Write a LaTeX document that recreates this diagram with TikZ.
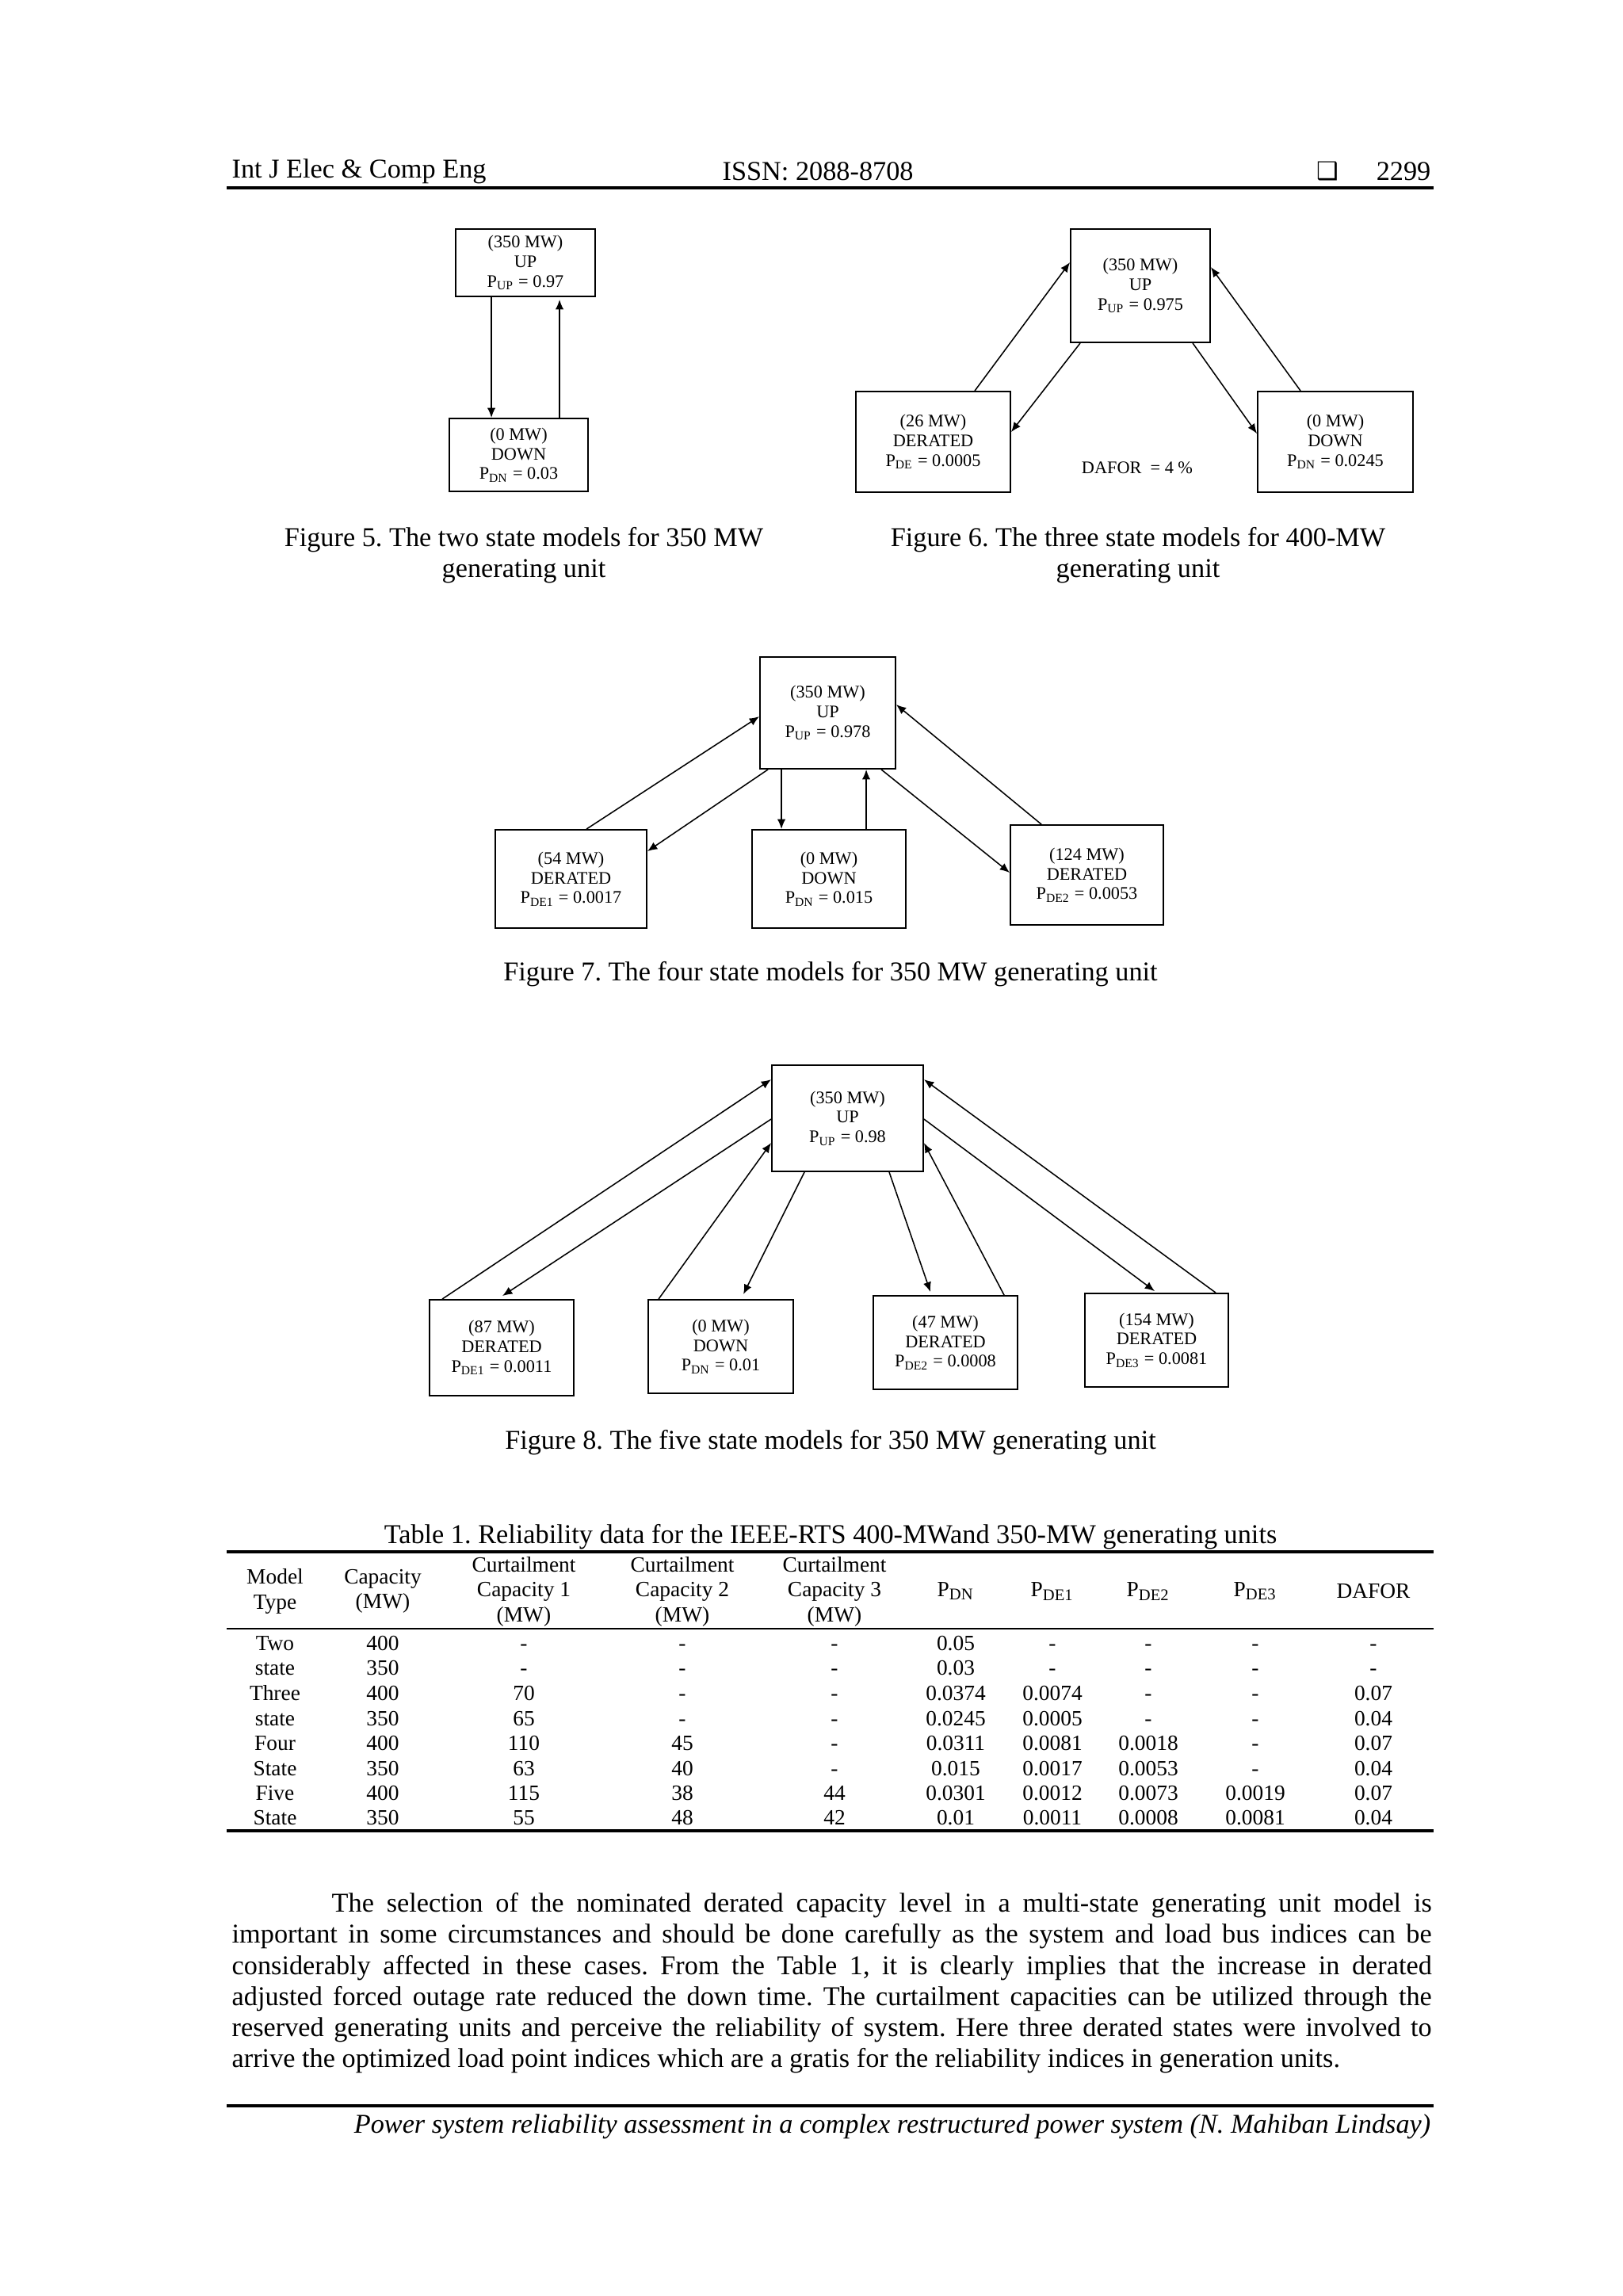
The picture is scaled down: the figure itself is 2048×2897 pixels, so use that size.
\documentclass[tikz,border=0pt]{standalone}
\usepackage{fontspec}
\setmainfont{Liberation Serif}
\newfontfamily\symbolfont{DejaVu Sans}
\usepackage{tikz}
\usetikzlibrary{arrows.meta,calc}
\frenchspacing

\newcommand{\pxu}{0.0102539cm}

\begin{document}
\begin{tikzpicture}[
    x=0.0102539cm,y=-0.0102539cm,
    statebox/.style 2 args={draw,line width=0.55pt,align=center,inner sep=0pt,
        minimum width=#1*\pxu,minimum height=#2*\pxu,
        font=\fontsize{6.5}{7.2}\selectfont},
    trans/.style={line width=0.45pt,-{Latex[length=3.6pt,width=3pt]}},
    rule/.style={line width=0.9pt},
    caption/.style={align=center,inner sep=0pt,font=\fontsize{10}{11.4}\selectfont},
    head/.style={align=center,inner sep=0pt,font=\fontsize{8}{9.2}\selectfont},
    cellval/.style={inner sep=0pt,text height=1.5ex,text depth=0.25ex,
        font=\fontsize{8}{9.2}\selectfont},
    every node/.style={text=black}
]
    \fill[white] (0,0) rectangle (2048,2897);
    \useasboundingbox (0,0) rectangle (2048,2897);

    % running head
    \node[caption,anchor=west] (jname) at (292,216) {Int J Elec \& Comp Eng};
    \node[caption,anchor=west] (issn) at (911,216) {ISSN: 2088-8708};
    \node[inner sep=0pt,font=\symbolfont\fontsize{9}{9}\selectfont] (mark) at (1675,216) {❑};
    \node[caption,anchor=east] (pageno) at (1806,216) {2299};
    \draw[rule] (286,237) -- (1809,237);

    % Figure 5: two states
    \node[statebox={176}{85}] (up5) at (663,331.5) {(350 MW)\\UP\\P\textsubscript{UP} = 0.97};
    \node[statebox={175}{92}] (dn5) at (654.5,574) {(0 MW)\\DOWN\\P\textsubscript{DN} = 0.03};
    \draw[trans] ($(up5.south west)+(46,0)$) -- ($(dn5.north west)+(54,0)$);
    \draw[trans] ($(dn5.north west)+(140,0)$) -- ($(up5.south west)+(132,3)$);
    \node[caption] (cap5) at (661,701) {Figure 5. The two state models for 350 MW\\generating unit};

    % Figure 6: three states
    \node[statebox={176}{143}] (up6) at (1439,360.5) {(350 MW)\\UP\\P\textsubscript{UP} = 0.975};
    \node[statebox={195}{127}] (de6) at (1177.5,557.5) {(26 MW)\\DERATED\\P\textsubscript{DE} = 0.0005};
    \node[statebox={196}{127}] (dn6) at (1685,557.5) {(0 MW)\\DOWN\\P\textsubscript{DN} = 0.0245};
    \draw[trans] ($(de6.north west)+(151,0)$) -- ($(up6.north west)+(0,43)$);
    \draw[trans] ($(up6.south west)+(13,0)$) -- ($(de6.north east)+(0,52)$);
    \draw[trans] ($(up6.south west)+(155,0)$) -- ($(dn6.north west)+(0,54)$);
    \draw[trans] ($(dn6.north west)+(55,0)$) -- ($(up6.north east)+(0,49)$);
    \node[inner sep=0pt,font=\fontsize{6.5}{7.2}\selectfont] (dafor6) at (1435,590) {DAFOR~ = 4 \%};
    \node[caption] (cap6) at (1436,701) {Figure 6. The three state models for 400-MW\\generating unit};

    % Figure 7: four states
    \node[statebox={171}{141}] (up7) at (1044.5,899.5) {(350 MW)\\UP\\P\textsubscript{UP} = 0.978};
    \node[statebox={191}{124}] (de71) at (720.5,1109) {(54 MW)\\DERATED\\P\textsubscript{DE1} = 0.0017};
    \node[statebox={194}{124}] (dn7) at (1046,1109) {(0 MW)\\DOWN\\P\textsubscript{DN} = 0.015};
    \node[statebox={193}{126}] (de72) at (1371.5,1104) {(124 MW)\\DERATED\\P\textsubscript{DE2} = 0.0053};
    \draw[trans] ($(de71.north west)+(116,0)$) -- ($(up7.north west)+(0,76)$);
    \draw[trans] ($(up7.south west)+(11,0)$) -- ($(de71.north east)+(0,28)$);
    \draw[trans] ($(up7.south west)+(28,0)$) -- ($(dn7.north west)+(38,0)$);
    \draw[trans] ($(dn7.north west)+(145,0)$) -- ($(up7.south west)+(135,0)$);
    \draw[trans] ($(up7.south west)+(154,0)$) -- ($(de72.north west)+(0,61)$);
    \draw[trans] ($(de72.north west)+(40,0)$) -- ($(up7.north east)+(0,61)$);
    \node[caption] (cap7) at (1048,1229) {Figure 7. The four state models for 350 MW generating unit};

    % Figure 8: five states
    \node[statebox={191}{134}] (up8) at (1069.5,1411) {(350 MW)\\UP\\P\textsubscript{UP} = 0.98};
    \node[statebox={182}{121}] (de81) at (633,1700.5) {(87 MW)\\DERATED\\P\textsubscript{DE1} = 0.0011};
    \node[statebox={183}{118}] (dn8) at (909.5,1699) {(0 MW)\\DOWN\\P\textsubscript{DN} = 0.01};
    \node[statebox={182}{118}] (de82) at (1193,1694) {(47 MW)\\DERATED\\P\textsubscript{DE2} = 0.0008};
    \node[statebox={181}{118}] (de83) at (1459.5,1691) {(154 MW)\\DERATED\\P\textsubscript{DE3} = 0.0081};
    \draw[trans] ($(de81.north west)+(17,0)$) -- ($(up8.north west)+(0,19)$);
    \draw[trans] ($(up8.north west)+(0,69)$) -- ($(de81.north west)+(93,-4)$);
    \draw[trans] ($(dn8.north west)+(14,0)$) -- ($(up8.north west)+(0,99)$);
    \draw[trans] ($(up8.south west)+(42,0)$) -- ($(dn8.north west)+(121,-6)$);
    \draw[trans] ($(up8.south west)+(149,0)$) -- ($(de82.north west)+(73,-4)$);
    \draw[trans] ($(de82.north west)+(166,0)$) -- ($(up8.north east)+(0,99)$);
    \draw[trans] ($(up8.north east)+(0,69)$) -- ($(de83.north west)+(89,-2)$);
    \draw[trans] ($(de83.north west)+(166,0)$) -- ($(up8.north east)+(0,19)$);
    \node[caption] (cap8) at (1048,1820) {Figure 8. The five state models for 350 MW generating unit};

    % Table 1
    \node[caption] (tabcap) at (1048,1939) {Table 1. Reliability data for the IEEE-RTS 400-MWand 350-MW generating units};
    \draw[rule] (286,1958) -- (1809,1958);
    \draw[line width=0.6pt] (286,2055) -- (1809,2055);
    \draw[rule] (286,2310) -- (1809,2310);
    \node[head] (h1) at (347,2008) {Model\\Type};
    \node[head] (h2) at (483,2008) {Capacity\\(MW)};
    \node[head] (h3) at (661,2008) {Curtailment\\Capacity 1\\(MW)};
    \node[head] (h4) at (861,2008) {Curtailment\\Capacity 2\\(MW)};
    \node[head] (h5) at (1053,2008) {Curtailment\\Capacity 3\\(MW)};
    \node[head] (h6) at (1206,2008) {P\textsubscript{DN}};
    \node[head] (h7) at (1328,2008) {P\textsubscript{DE1}};
    \node[head] (h8) at (1449,2008) {P\textsubscript{DE2}};
    \node[head] (h9) at (1584,2008) {P\textsubscript{DE3}};
    \node[head] (h10) at (1733,2008) {DAFOR};
    \foreach \rowdata [count=\i] in {
        {Two,400,-,-,-,0.05,-,-,-,-},
        {state,350,-,-,-,0.03,-,-,-,-},
        {Three,400,70,-,-,0.0374,0.0074,-,-,0.07},
        {state,350,65,-,-,0.0245,0.0005,-,-,0.04},
        {Four,400,110,45,-,0.0311,0.0081,0.0018,-,0.07},
        {State,350,63,40,-,0.015,0.0017,0.0053,-,0.04},
        {Five,400,115,38,44,0.0301,0.0012,0.0073,0.0019,0.07},
        {State,350,55,48,42,0.01,0.0011,0.0008,0.0081,0.04}}{
        \foreach \val [count=\j] in \rowdata {
            \pgfmathsetmacro{\cx}{{347,483,661,861,1053,1206,1328,1449,1584,1733}[\j-1]}
            \pgfmathsetmacro{\cy}{{2073,2104,2136,2168,2199,2231,2262,2293}[\i-1]}
            \node[cellval] (t-\i-\j) at (\cx,\cy) {\val};
        }
    }

    % body text
    \node[anchor=north west,inner sep=0pt,text width=1514*\pxu,align=justify,
          font=\fontsize{10}{11.4}\selectfont] (body) at (292,2388) {%
        \hspace*{1.292cm}The selection of the nominated derated capacity level in a multi-state generating unit model is\linebreak
        important in some circumstances and should be done carefully as the system and load bus indices can be\linebreak
        considerably affected in these cases. From the Table 1, it is clearly implies that the increase in derated\linebreak
        adjusted forced outage rate reduced the down time. The curtailment capacities can be utilized through the\linebreak
        reserved generating units and perceive the reliability of system. Here three derated states were involved to\linebreak
        arrive the optimized load point indices which are a gratis for the reliability indices in generation units.};

    % running foot
    \draw[rule] (286,2657) -- (1809,2657);
    \node[caption,anchor=east,font=\fontsize{10}{11.4}\selectfont\itshape] (foot) at (1806,2683)
        {Power system reliability assessment in a complex restructured power system (N. Mahiban Lindsay)};
\end{tikzpicture}
\end{document}
